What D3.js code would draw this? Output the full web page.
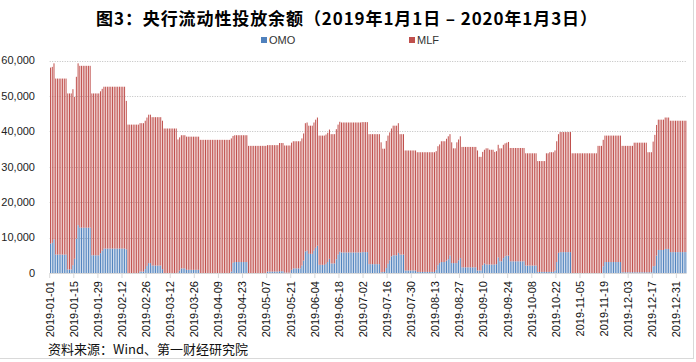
<!DOCTYPE html>
<html>
<head>
<meta charset="utf-8">
<script src="https://cdn.jsdelivr.net/npm/d3@7"></script>
<style>
body { margin: 0; background: #fff; }
svg { display: block; }
</style>
</head>
<body>
<svg id="chart" width="696" height="362"></svg>
<script>
var titolo = "图3：央行流动性投放余额（2019年1月1日 – 2020年1月3日）";
var fonte = "资料来源：Wind、第一财经研究院";
var seriesNames = ["OMO", "MLF"];
var seriesColors = ["#4F81BD", "#C0504D"];
var yTicks = [0, 10000, 20000, 30000, 40000, 50000, 60000];
var firstDay = new Date(2019, 0, 1);
var tickEvery = 14;

// OMO余额, one value per calendar day (亿元)
var omo = [
  // 2019-01
  8300,8500,9500,5200,5200,5200,5200,5200,5200,5200,1000,1000,1000,2200,4000,9700,13500,12800,12800,12800,12800,12800,12800,12800,5000,5000,5000,5000,5000,5600,6300,
  // 2019-02
  6900,6900,6900,6900,6900,6900,6900,6900,6900,6900,6900,6900,6900,6700,0,0,0,0,0,0,0,400,400,400,1100,2000,2800,2800,
  // 2019-03
  2100,2100,2100,2100,2100,2100,1100,0,0,0,0,0,0,0,0,100,700,1300,1300,1300,900,900,900,900,900,900,900,900,0,0,0,
  // 2019-04
  0,0,0,0,0,0,0,0,0,0,0,0,0,0,0,400,2900,3100,3100,3100,3100,3100,3100,3100,3100,0,0,0,0,0,
  // 2019-05
  0,0,0,0,0,0,400,400,400,400,400,400,400,500,500,500,100,100,100,100,900,1300,1300,1300,1300,1300,2100,3500,6100,6300,5400,
  // 2019-06
  5400,5400,6300,7100,7700,2300,2300,2300,2300,2600,3100,4000,2700,2700,2700,3900,5200,6000,5800,5800,5800,5800,5800,5800,5800,5800,5800,5800,5800,5800,
  // 2019-07
  5900,5900,5900,5900,2500,2500,2500,2500,2500,2500,2500,200,300,300,1400,2600,3600,4700,5000,5000,5000,5700,5200,5200,5200,700,700,700,700,700,700,
  // 2019-08
  700,300,300,300,300,300,300,300,300,300,300,300,900,2200,2800,3100,3100,3100,3500,3900,4900,2800,2800,2800,2800,3600,4200,1600,1600,1600,1600,
  // 2019-09
  1600,1600,1600,1600,1600,700,700,700,2200,2700,2400,2400,2400,2400,2400,2400,2500,4400,3300,3300,4200,4700,4900,4900,3300,3300,3300,3300,3300,3300,
  // 2019-10
  3300,3300,3300,2100,2100,2100,2100,2100,2100,2100,300,300,300,300,300,300,300,300,300,300,700,3100,5700,5900,5900,5900,5900,5900,5900,5900,0,
  // 2019-11
  0,0,0,0,0,0,0,0,0,0,0,0,0,0,0,0,0,1900,3100,3100,3100,3100,3100,3100,3100,3100,3100,3100,200,200,
  // 2019-12
  200,200,200,200,200,200,200,200,200,200,200,200,200,200,200,200,1900,2000,4900,6500,6500,6500,6500,6800,6800,6800,5900,5900,5900,5900,5900,
  // 2020-01
  5900,5900,5900,5900,5900
];

// MLF余额, one value per calendar day (亿元)
var mlf = [
  // 2019-01
  49700,49700,49700,49700,49700,49700,49700,49700,49700,49700,49700,49700,49700,49700,45700,45700,45700,45700,45700,45700,45700,45700,45700,45700,45700,45700,45700,45700,45700,45700,45700,
  // 2019-02
  45700,45700,45700,45700,45700,45700,45700,45700,45700,45700,45700,45700,45700,41900,41900,41900,41900,41900,41900,41900,41900,41900,41900,41900,41900,41900,41900,41900,
  // 2019-03
  41900,41900,41900,41900,41900,41900,41900,40800,40800,40800,40800,40800,40800,40800,40800,37600,37600,37600,37600,37600,37600,37600,37600,37600,37600,37600,37600,37600,37600,37600,37600,
  // 2019-04
  37600,37600,37600,37600,37600,37600,37600,37600,37600,37600,37600,37600,37600,37600,37600,37600,35800,35800,35800,35800,35800,35800,35800,35800,35800,35900,35900,35900,35900,35900,
  // 2019-05
  35900,35900,35900,35900,35900,35900,35700,35700,35700,35700,35700,35700,35700,36200,36200,36200,35900,35900,35900,35900,35900,35900,35900,35900,35900,35900,35900,35900,36200,36200,36200,
  // 2019-06
  36200,36200,36200,36200,36200,36500,36500,36500,36500,36500,36500,36500,36500,36500,36500,36700,36700,36700,36700,36700,36700,36700,36700,36700,36700,36700,36700,36700,36700,36700,
  // 2019-07
  36700,36700,36700,36700,36700,36700,36700,36700,36700,36700,36700,36700,34800,34800,35900,36200,36100,36100,36600,36600,36600,36600,34000,34000,34000,33900,33900,33900,33900,33900,33900,
  // 2019-08
  33900,33800,33800,33800,33800,33800,33800,33800,33800,33800,33800,33800,33500,33600,33500,34100,34100,34100,34400,34700,34300,34100,32400,32400,34100,34100,34400,34000,34000,34000,34000,
  // 2019-09
  34000,34000,34000,34000,34000,33900,32100,32100,32000,32100,32800,32800,32400,32400,32400,31800,31900,31800,31900,31900,32000,31900,31900,32100,32000,32000,32000,32000,32000,32000,
  // 2019-10
  32000,32000,32000,31700,31700,31700,31700,31700,31700,31700,31300,31300,31300,31300,31300,33500,33500,33800,33800,33800,33900,34100,33500,33900,33900,33900,33900,33900,33900,33900,33800,
  // 2019-11
  33800,33800,33800,33800,33800,33800,33800,33800,33800,33800,33800,33800,33800,33800,35900,35900,35900,35700,35700,35700,35700,35700,35700,35700,35700,35700,35700,35700,35700,35700,
  // 2019-12
  35700,35700,35700,35700,35700,36600,36600,36600,36600,36600,36600,36600,36600,33900,33900,33900,35200,37000,36900,36800,36800,36800,36800,37100,37100,37100,37100,37100,37100,37100,37100,
  // 2020-01
  37100,37100,37100,37100,37100
];

var svg = d3.select("#chart");
var plotLeft = 49.7, plotRight = 686.7, plotTop = 60.5, plotBottom = 273;

var days = d3.range(omo.length);
var dates = days.map(function(i) { return d3.timeDay.offset(firstDay, i); });
var fmtDate = d3.timeFormat("%Y-%m-%d");

var rows = days.map(function(i) { return { d: i, OMO: omo[i], MLF: mlf[i] }; });
var stacked = d3.stack().keys(seriesNames)(rows);

var x = d3.scaleBand().domain(days).range([plotLeft, plotRight]).paddingInner(0.42).paddingOuter(0.2);
var y = d3.scaleLinear().domain([0, 60000]).range([plotBottom, plotTop]);

// cornice grigia a destra e in basso
svg.append("line").attr("x1", 693.5).attr("x2", 693.5).attr("y1", 0).attr("y2", 358.5)
  .attr("stroke", "#d9d9d9");
svg.append("line").attr("x1", 0).attr("x2", 694).attr("y1", 358.5).attr("y2", 358.5)
  .attr("stroke", "#d9d9d9");

// titolo
svg.append("text")
  .attr("x", 347).attr("y", 25)
  .attr("text-anchor", "middle")
  .style("font-family", "'Noto Sans CJK SC', sans-serif")
  .style("font-weight", "bold")
  .style("font-size", "17px")
  .style("letter-spacing", "0.9px")
  .text(titolo);

// legenda
var legX = [261, 409];
var leg = svg.selectAll(".leg").data(seriesNames).enter().append("g").attr("class", "leg")
  .attr("transform", function(d, i) { return "translate(" + legX[i] + ",37)"; });
leg.append("rect").attr("width", 6).attr("height", 6)
  .attr("fill", function(d, i) { return seriesColors[i]; });
leg.append("text").attr("x", 8).attr("y", 3).attr("dy", ".35em")
  .style("font-family", "'Liberation Sans', Arial, sans-serif")
  .style("font-size", "11px").attr("fill", "#333")
  .text(function(d) { return d; });

// griglia
svg.selectAll(".grid").data(yTicks.slice(1)).enter().append("line").attr("class", "grid")
  .attr("x1", plotLeft).attr("x2", plotRight)
  .attr("y1", function(d) { return Math.round(y(d)) + 0.5; })
  .attr("y2", function(d) { return Math.round(y(d)) + 0.5; })
  .attr("stroke", "#bfbfbf").attr("stroke-dasharray", "1,1.5");

// etichette asse y
svg.selectAll(".ylab").data(yTicks).enter().append("text").attr("class", "ylab")
  .attr("x", 35).attr("y", function(d) { return y(d); }).attr("dy", ".35em")
  .attr("text-anchor", "end")
  .style("font-family", "'Liberation Sans', Arial, sans-serif")
  .style("font-size", "11px").attr("fill", "#222")
  .text(function(d) { return d3.format(",")(d); });

// barre impilate
svg.selectAll(".serie").data(stacked).enter().append("g").attr("class", "serie")
  .attr("fill", function(d, i) { return seriesColors[i]; })
  .selectAll("rect").data(function(d) { return d; }).enter().append("rect")
  .attr("x", function(d) { return x(d.data.d); })
  .attr("width", x.bandwidth())
  .attr("y", function(d) { return y(d[1]); })
  .attr("height", function(d) { return Math.max(0, y(d[0]) - y(d[1])); });

// asse x
var tickDays = days.filter(function(i) { return i % tickEvery === 0 && i < 365; });
var step = x.step();
svg.append("line").attr("x1", plotLeft).attr("x2", plotRight).attr("y1", plotBottom + 0.5).attr("y2", plotBottom + 0.5)
  .attr("stroke", "#d9d9d9");
svg.selectAll(".xtick").data(tickDays).enter().append("line").attr("class", "xtick")
  .attr("x1", function(d) { return plotLeft + d * step; })
  .attr("x2", function(d) { return plotLeft + d * step; })
  .attr("y1", plotBottom).attr("y2", plotBottom + 5)
  .attr("stroke", "#d9d9d9");
svg.selectAll(".xlab").data(tickDays).enter().append("text").attr("class", "xlab")
  .attr("transform", function(d) { return "translate(" + (plotLeft + d * step) + ",281) rotate(-90)"; })
  .attr("dy", ".35em")
  .attr("text-anchor", "end")
  .style("font-family", "'Liberation Sans', Arial, sans-serif")
  .style("font-size", "11px").attr("fill", "#111")
  .text(function(d) { return fmtDate(dates[d]); });

// fonte
svg.append("text").attr("x", 48).attr("y", 354)
  .style("font-family", "'Noto Sans CJK SC', sans-serif")
  .style("font-size", "13px").attr("fill", "#111")
  .text(fonte);
</script>
</body>
</html>
